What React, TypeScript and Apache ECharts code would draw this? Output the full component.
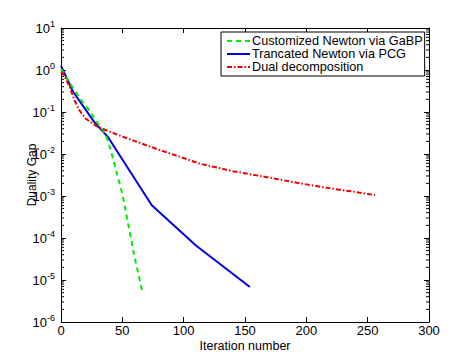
import React, { useEffect, useRef } from "react";
import * as echarts from "echarts";

// Iteration number (x) and duality gap (y) for each method
const gabpIter = [0, 5, 11, 16, 22, 30, 36, 40, 45, 50, 55, 60, 66];
const gabpGap = [1.05, 0.62, 0.33, 0.2, 0.12, 0.054, 0.031, 0.0141, 0.004, 0.00112, 0.0002, 0.000035, 0.0000058];

const pcgIter = [0, 10, 27, 38, 74, 110, 154];
const pcgGap = [1.25, 0.3, 0.058, 0.026, 0.0006, 0.000066, 0.0000068];

const dualIter = [0, 2, 4, 7, 11, 15, 20, 30, 50, 77, 113, 140, 168, 195, 222, 240, 250, 256];
const dualGap = [0.9, 0.8, 0.6, 0.4, 0.19, 0.11, 0.07, 0.044, 0.026, 0.0135, 0.0059, 0.0039, 0.0028, 0.002, 0.00148, 0.00125, 0.00112, 0.00105];

const seriesNames = ["Customized Newton via GaBP", "Trancated Newton via PCG", "Dual decomposition"];

const xTicks = [0, 50, 100, 150, 200, 250, 300];
const yMin = 1e-6;
const yMax = 10;

const minorTickValues: number[] = [];
for (let d = -6; d <= 0; d++) {
  for (let k = 2; k <= 9; k++) minorTickValues.push(k * Math.pow(10, d));
}

const FONT = "'Liberation Sans', Arial, Helvetica, sans-serif";

const zip = (xs: number[], ys: number[]) => xs.map((x, i) => [x, ys[i]]);

export default function App() {
  const ref = useRef<HTMLDivElement>(null);
  useEffect(() => {
    const chart = echarts.init(ref.current!, null, { renderer: "svg" });
    const expLabel = (v: number) => {
      const e = Math.round(Math.log10(v));
      return `{b|10}{s|${e}}`;
    };
    const axisLine = { show: true, onZero: false, lineStyle: { color: "#000", width: 1 } };
    const tick = { show: true, inside: true, length: 5, lineStyle: { color: "#000" } };
    const option: any = {
      animation: false,
      backgroundColor: "#fff",
      textStyle: { fontFamily: FONT },
      grid: { left: 61, right: 45, top: 28, bottom: 40, containLabel: false },
      legend: {
        data: seriesNames,
        orient: "vertical",
        left: 221,
        top: 32,
        padding: [2.5, 2, 2.5, 5],
        itemGap: 0,
        itemWidth: 23,
        itemHeight: 14,
        borderColor: "#000",
        borderWidth: 1,
        backgroundColor: "#fff",
        borderRadius: 0,
        itemStyle: { opacity: 0 },
        textStyle: { fontFamily: FONT, fontSize: 12.7, lineHeight: 13, color: "#000", padding: [0, 0, 0, -3] },
      },
      xAxis: [
        {
          type: "value",
          min: xTicks[0],
          max: xTicks[xTicks.length - 1],
          interval: 50,
          name: "Iteration number",
          nameLocation: "middle",
          nameGap: 17.5,
          nameMoveOverlap: false,
          nameTextStyle: { fontFamily: FONT, fontSize: 12.5, lineHeight: 12, color: "#000" },
          axisLine,
          axisTick: tick,
          axisLabel: { fontFamily: FONT, fontSize: 13, lineHeight: 11, color: "#000", margin: 3 },
          splitLine: { show: false },
        },
        {
          type: "value",
          position: "top",
          min: xTicks[0],
          max: xTicks[xTicks.length - 1],
          interval: 50,
          axisLine,
          axisTick: tick,
          axisLabel: { show: false },
          splitLine: { show: false },
        },
      ],
      yAxis: [
        {
          type: "log",
          logBase: 10,
          min: yMin,
          max: yMax,
          splitNumber: 7,
          name: "Duality Gap",
          nameLocation: "middle",
          nameGap: 23,
          nameMoveOverlap: false,
          nameTextStyle: { fontFamily: FONT, fontSize: 12, color: "#000" },
          axisLine,
          axisTick: tick,
          axisLabel: {
            formatter: expLabel,
            margin: 6,
            rich: {
              b: { fontFamily: FONT, fontSize: 13, color: "#000" },
              s: { fontFamily: FONT, fontSize: 9, color: "#000", padding: [0, 0, 9, 0] },
            },
          },
          splitLine: { show: false },
        },
        {
          type: "log",
          logBase: 10,
          position: "right",
          min: yMin,
          max: yMax,
          splitNumber: 7,
          axisLine,
          axisTick: tick,
          axisLabel: { show: false },
          splitLine: { show: false },
        },
      ],
      series: [
        {
          name: "minor",
          type: "custom",
          silent: true,
          xAxisIndex: 0,
          yAxisIndex: 0,
          data: minorTickValues.map((v) => [0, v]),
          renderItem: (params: any, api: any) => {
            const v = api.value(1);
            const l = api.coord([xTicks[0], v]);
            const r = api.coord([xTicks[xTicks.length - 1], v]);
            return {
              type: "group",
              children: [
                { type: "line", shape: { x1: l[0], y1: l[1], x2: l[0] + 3, y2: l[1] }, style: { stroke: "#000", lineWidth: 1 } },
                { type: "line", shape: { x1: r[0], y1: r[1], x2: r[0] - 3, y2: r[1] }, style: { stroke: "#000", lineWidth: 1 } },
              ],
            };
          },
        },
        {
          name: seriesNames[0],
          type: "line",
          data: zip(gabpIter, gabpGap),
          symbol: "none",
          color: "#00ee00",
          lineStyle: { color: "#00ee00", width: 2, type: [5, 4] },
          z: 3,
        },
        {
          name: seriesNames[1],
          type: "line",
          data: zip(pcgIter, pcgGap),
          symbol: "none",
          color: "#0000e0",
          lineStyle: { color: "#0000e0", width: 2, type: "solid" },
          z: 2,
        },
        {
          name: seriesNames[2],
          type: "line",
          data: zip(dualIter, dualGap),
          symbol: "none",
          color: "#ee0000",
          lineStyle: { color: "#ee0000", width: 2, type: [5, 2, 1.5, 2] },
          z: 4,
        },
      ],
    };
    chart.setOption(option);
    return () => chart.dispose();
  }, []);
  return <div ref={ref} style={{ position: "fixed", left: 0, top: 0, width: 474, height: 362 }} />;
}
